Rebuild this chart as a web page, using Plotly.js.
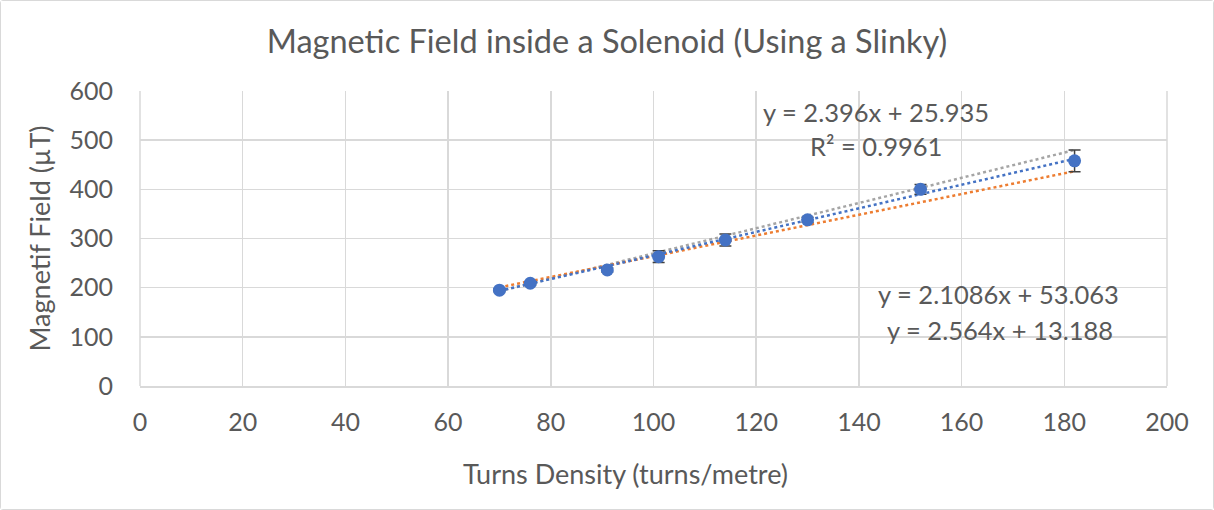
<!DOCTYPE html>
<html>
<head>
<meta charset="utf-8">
<script src="https://cdn.plot.ly/plotly-3.0.1.min.js"></script>
<style>
html,body{margin:0;padding:0;background:#fff;}
#chart{width:1212px;height:508px;border:1px solid #d9d9d9;border-radius:3px;}
</style>
</head>
<body>
<div id="chart"></div>
<script>
// Data
const turnsDensity = [70, 76, 91, 101, 114, 130, 152, 182];
const magneticField = [195, 209, 236, 263, 297, 338, 400, 458];
const fieldError = [3, 3, 4, 12, 12, 5, 10, 22];

// Trendlines as displayed (slope, intercept)
const trendNames = ["Main fit", "Lower fit", "Upper fit"];
const trendSlopes = [2.396, 2.1086, 2.564];
const trendIntercepts = [25.935, 53.063, 13.188];
const trendColors = ["#4472C4", "#ED7D31", "#A5A5A5"];

const equationLabels = ["y = 2.396x + 25.935", "R² = 0.9961", "y = 2.1086x + 53.063", "y = 2.564x + 13.188"];
const xAxisTitle = 'Turns Density (turns/metre)';
const yAxisTitle = 'Magnetif Field (µT)';

const xMin = Math.min(...turnsDensity), xMax = Math.max(...turnsDensity);
const traces = [];
[2, 1, 0].forEach(i => {
  traces.push({
    x: [xMin, xMax],
    y: [trendSlopes[i] * xMin + trendIntercepts[i], trendSlopes[i] * xMax + trendIntercepts[i]],
    mode: 'lines',
    name: trendNames[i],
    line: {color: trendColors[i], width: 2.5, dash: 'dot'},
    hoverinfo: 'skip'
  });
});
traces.push({
  x: turnsDensity,
  y: magneticField,
  mode: 'markers',
  name: 'Data',
  marker: {color: '#4472C4', size: 13},
  error_y: {type: 'data', array: fieldError, visible: true, color: '#404040', thickness: 1.5, width: 6}
});

const fnt = "Lato, 'Open Sans', sans-serif";
const grey = '#595959';
const layout = {
  width: 1212, height: 508,
  margin: {l: 139, r: 46, t: 90, b: 123},
  paper_bgcolor: '#fff', plot_bgcolor: '#fff',
  showlegend: false,
  font: {family: fnt, color: grey, size: 25},
  title: {text: 'Magnetic Field inside a Solenoid (Using a Slinky)', x: 0.5, xanchor: 'center', y: 0.92, yanchor: 'middle', font: {family: fnt, size: 32.5, color: grey}},
  xaxis: {
    range: [0, 200], dtick: 20, showgrid: true, gridcolor: '#d9d9d9', gridwidth: 1.5,
    zeroline: false, showline: true, linecolor: '#d9d9d9', linewidth: 1.5, mirror: false,
    ticks: '', ticklabelstandoff: 13, tickfont: {size: 25, color: grey}
  },
  yaxis: {
    range: [0, 600], dtick: 100, showgrid: true, gridcolor: '#d9d9d9', gridwidth: 1.5,
    zeroline: false, showline: false, ticks: '', ticklabelstandoff: 26, tickfont: {size: 25, color: grey},
    title: {text: yAxisTitle, font: {size: 27, color: grey}, standoff: 11}
  },
  shapes: [
    {type: 'line', xref: 'paper', yref: 'paper', x0: 1, x1: 1, y0: 0, y1: 1, line: {color: '#d9d9d9', width: 1.5}},
    {type: 'line', xref: 'paper', yref: 'paper', x0: 0, x1: 0, y0: 0, y1: 1, line: {color: '#d9d9d9', width: 1.5}}
  ],
  annotations: [
    {text: equationLabels[0], x: 143.3, y: 557, xref: 'x', yref: 'y', showarrow: false, font: {size: 25.5, color: grey}},
    {text: equationLabels[1], x: 143.4, y: 488, xref: 'x', yref: 'y', showarrow: false, font: {size: 25.5, color: grey}},
    {text: equationLabels[2], x: 167.1, y: 187, xref: 'x', yref: 'y', showarrow: false, font: {size: 25.5, color: grey}},
    {text: equationLabels[3], x: 167.4, y: 114, xref: 'x', yref: 'y', showarrow: false, font: {size: 25.5, color: grey}},
    {text: xAxisTitle, xref: 'paper', yref: 'paper', x: (625 - 140) / 1027, y: -0.296, xanchor: 'center', yanchor: 'middle', showarrow: false, font: {size: 27, color: grey}}
  ]
};
Plotly.newPlot('chart', traces, layout, {displayModeBar: false, staticPlot: true});
</script>
</body>
</html>
